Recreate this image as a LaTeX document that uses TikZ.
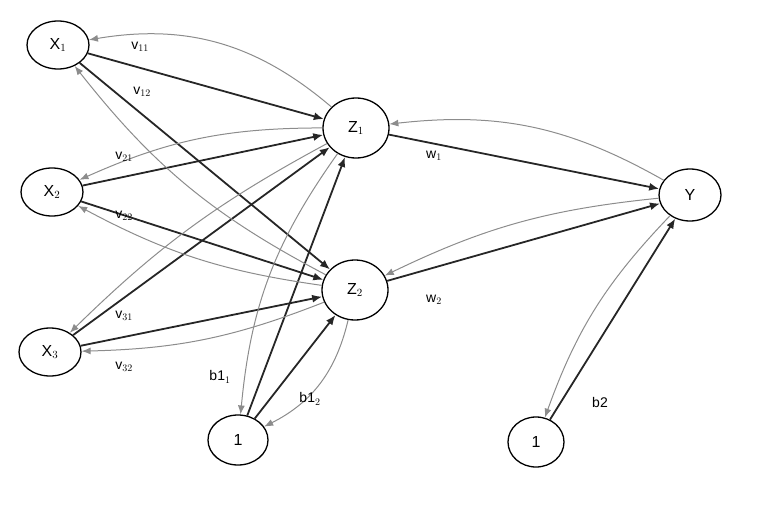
\documentclass[tikz,border=0pt]{standalone}
\usepackage{fontspec}
\setmainfont{Liberation Sans}
\usetikzlibrary{arrows.meta,shapes.geometric}
\begin{document}
\begin{tikzpicture}[x=1pt,y=-1pt,
  neuron/.style={draw,line width=1.3pt,ellipse,inner sep=0pt,font=\fontsize{16}{18}\selectfont},
  fwd/.style={-{Latex[length=10pt,width=8pt]},line width=1.8pt,black!85},
  bwd/.style={-{Latex[length=9pt,width=7pt]},line width=1pt,black!45},
  lab/.style={font=\fontsize{14}{16}\selectfont}]
\useasboundingbox (0,0) rectangle (765,508);
\node[neuron,minimum width=62pt,minimum height=48pt] (x1) at (58,45) {X$_1$};
\node[neuron,minimum width=62pt,minimum height=48pt] (x2) at (52,192) {X$_2$};
\node[neuron,minimum width=62pt,minimum height=48pt] (x3) at (50,352) {X$_3$};
\node[neuron,minimum width=66pt,minimum height=60pt] (z1) at (356,128) {Z$_1$};
\node[neuron,minimum width=66pt,minimum height=60pt] (z2) at (355,290) {Z$_2$};
\node[neuron,minimum width=62pt,minimum height=52pt] (y) at (690,195) {Y};
\node[neuron,minimum width=60pt,minimum height=50pt] (b1) at (238,440) {1};
\node[neuron,minimum width=56pt,minimum height=50pt] (b2) at (536,442) {1};
% forward
\draw[fwd] (x1) -- (z1);
\draw[fwd] (x1) -- (z2);
\draw[fwd] (x2) -- (z1);
\draw[fwd] (x2) -- (z2);
\draw[fwd] (x3) -- (z1);
\draw[fwd] (x3) -- (z2);
\draw[fwd] (z1) -- (y);
\draw[fwd] (z2) -- (y);
\draw[fwd] (b1) -- (z1);
\draw[fwd] (b1) -- (z2);
\draw[fwd] (b2) -- (y);
% backward
\draw[bwd] (z1) to[bend right=25] (x1);
\draw[bwd] (z1) to[bend right=12] (x2);
\draw[bwd] (z1) to[bend right=8] (x3);
\draw[bwd] (z2) to[bend left=12] (x1);
\draw[bwd] (z2) to[bend left=10] (x2);
\draw[bwd] (z2) to[bend left=10] (x3);
\draw[bwd] (y) to[bend right=18] (z1);
\draw[bwd] (y) to[bend right=10] (z2);
\draw[bwd] (z1) to[bend right=15] (b1);
\draw[bwd] (z2) to[bend left=25] (b1);
\draw[bwd] (y) to[bend right=12] (b2);
% labels
\node[lab] (l1) at (140,47) {v$_{11}$};
\node[lab] (l2) at (142,92) {v$_{12}$};
\node[lab] (l3) at (124,157) {v$_{21}$};
\node[lab] (l4) at (124,216) {v$_{22}$};
\node[lab] (l5) at (124,316) {v$_{31}$};
\node[lab] (l6) at (124,367) {v$_{32}$};
\node[lab] (l7) at (434,156) {w$_1$};
\node[lab] (l8) at (434,300) {w$_2$};
\node[lab] (l9) at (220,377) {b1$_1$};
\node[lab] (l10) at (310,399) {b1$_2$};
\node[lab] (l11) at (600,402) {b2};
\end{tikzpicture}
\end{document}
